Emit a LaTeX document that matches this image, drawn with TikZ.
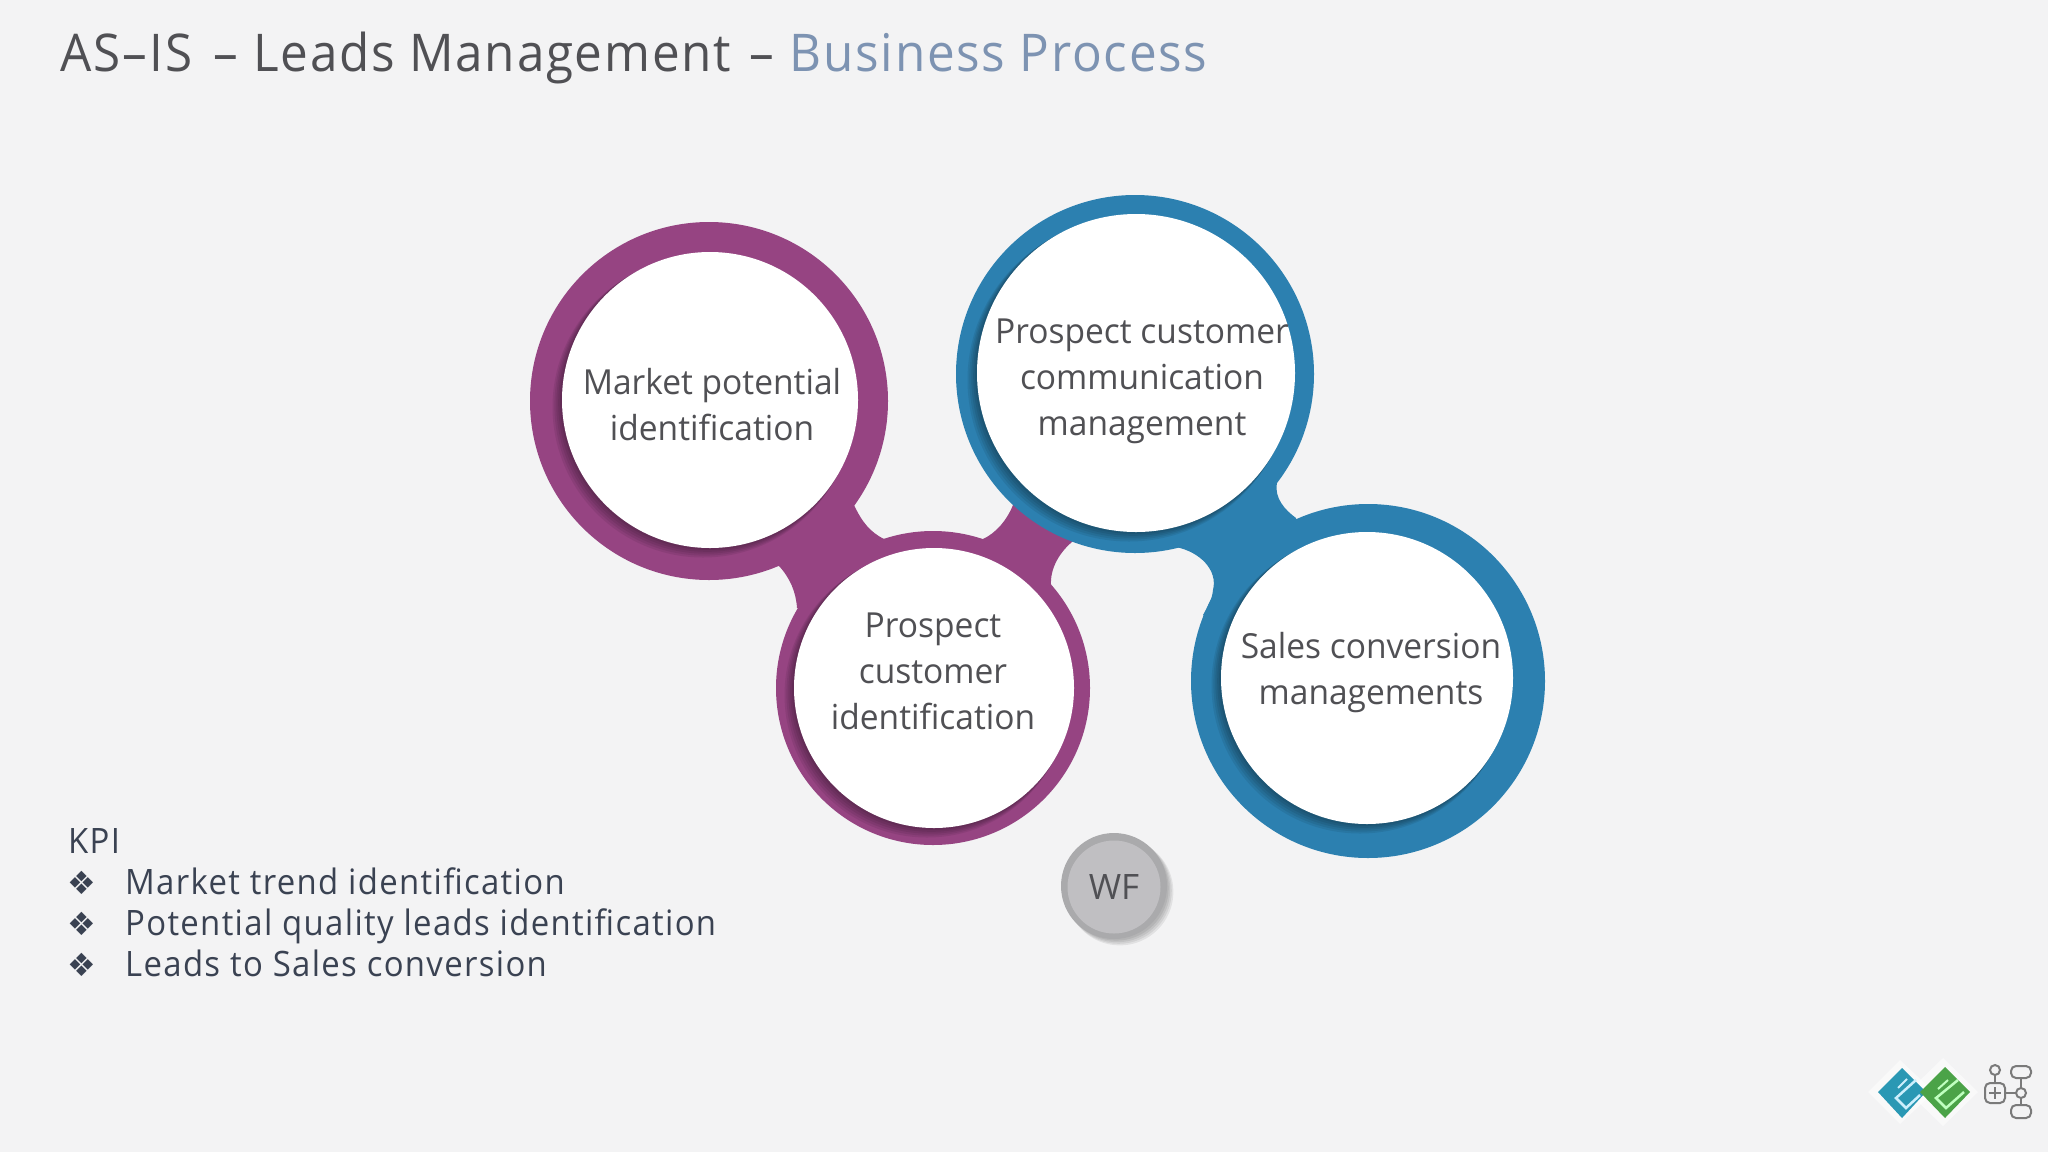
\documentclass[tikz,border=0pt]{standalone}
\usepackage{fontspec}
\setmainfont{Open Sans}
\newfontfamily\symfont{DejaVu Sans}
\usetikzlibrary{calc}
\definecolor{bgc}{HTML}{F3F3F4}
\definecolor{purp}{HTML}{964482}
\definecolor{blu}{HTML}{2C80B0}
\definecolor{txt}{HTML}{505054}
\definecolor{kpi}{HTML}{3A4252}
\definecolor{ttl}{HTML}{7D93B2}
\definecolor{wfring}{HTML}{AAAAAC}
\definecolor{wffill}{HTML}{C0BFC2}
\definecolor{logob}{HTML}{2A98B4}
\definecolor{logog}{HTML}{4BA348}
\tikzset{
  ring/.style={circle,inner sep=0pt,outer sep=0pt},
  face/.style={circle,inner sep=0pt,fill=white},
  lab/.style={inner sep=0pt,text=txt,align=center,font=\fontsize{34.5}{46}\selectfont\addfontfeature{FakeStretch=0.972}},
  kpitext/.style={anchor=base west,inner sep=0pt,text=kpi,font=\fontsize{35}{40}\selectfont\addfontfeature{FakeStretch=0.94,LetterSpace=3.8}},
  kpibul/.style={anchor=base west,inner sep=0pt,text=kpi,font=\symfont\fontsize{32}{34}\selectfont},
  icon/.style={draw=black!52,line width=2pt,fill=none}
}
\newcommand{\faceshadow}[4]{%
  \foreach \k in {10,8,6,4,2}{\fill[#4,opacity=0.075] (#1-\k*0.7,#2+\k*0.7) circle[radius=#3+\k*0.25];}%
}
\begin{document}
\begin{tikzpicture}[x=1pt,y=-1pt]
\useasboundingbox (0,0) rectangle (2048,1152);
\fill[bgc] (0,0) rectangle (2048,1152);
% title
\node[anchor=base west,inner sep=0pt,font=\fontsize{52}{60}\selectfont\addfontfeature{FakeStretch=0.95,LetterSpace=3.3}] (title) at (60,71)
  {\textcolor{txt}{AS\kern2pt–\kern3pt{}IS \kern6pt{}–\kern1pt{} Leads Management \kern4pt{}–\kern1pt{} }\textcolor{ttl}{Business Process}};
% connector necks
\coordinate (p1a) at (854,505); \coordinate (p1b) at (884,539);
\coordinate (p1c) at (797,608); \coordinate (p1d) at (779,566);
\coordinate (p2a) at (983,539); \coordinate (p2b) at (1013,505);
\coordinate (p2c) at (1072,542); \coordinate (p2d) at (1051,585);
\coordinate (b1a) at (1176,547); \coordinate (b1b) at (1203,615);
\coordinate (b1c) at (1296,518); \coordinate (b1d) at (1277,483);
\fill[purp] (p1a) .. controls (862,522) and (870,532) .. (p1b) -- (950,620) -- (p1c)
   .. controls (796,592) and (790,578) .. (p1d) -- (720,500) -- cycle;
\fill[purp] (p2a) .. controls (996,533) and (1007,520) .. (p2b) -- (1100,500) -- (p2c)
   .. controls (1060,552) and (1050,568) .. (p2d) -- (950,650) -- cycle;
\node[ring,fill=purp,minimum size=358pt] (c1o) at (709,401) {};
\node[ring,fill=purp,minimum size=314pt] (c2o) at (933,688) {};
\fill[blu] (b1a) .. controls (1200,552) and (1218,570) .. (1213,590)
   .. controls (1212,600) and (1208,606) .. (b1b) -- (1330,700) -- (b1c)
   .. controls (1285,510) and (1274,498) .. (b1d) -- (1150,400) -- cycle;
\node[ring,fill=blu,minimum size=358pt] (c3o) at (1135,374) {};
\node[ring,fill=blu,minimum size=354pt] (c4o) at (1368,681) {};
% inner shadows
\begin{scope}
\clip (c1o.center) circle[radius=179];
\faceshadow{710}{400}{148}{black}
\end{scope}
\begin{scope}
\clip (c2o.center) circle[radius=157];
\faceshadow{934}{688}{140}{black}
\end{scope}
\begin{scope}
\clip (c3o.center) circle[radius=179];
\faceshadow{1136}{373}{159}{black}
\end{scope}
\begin{scope}
\clip (c4o.center) circle[radius=177];
\faceshadow{1367}{678}{146}{black}
\end{scope}
% faces
\node[face,minimum size=296pt] (c1) at (710,400) {};
\node[face,minimum size=280pt] (c2) at (934,688) {};
\node[face,minimum size=318pt] (c3) at (1136,373) {};
\node[face,minimum size=292pt] (c4) at (1367,678) {};
\node[lab] (t1) at (712,405) {Market potential\\identification};
\node[lab] (t2) at (933,671.5) {Prospect\\customer\\identification};
\node[lab] (t3) at (1142,381) {Prospect customer\\communication\\management};
\node[lab] (t4) at (1371,672.5) {Sales conversion\\managements};
% WF
\foreach \k in {8,6,4,2}{\fill[black,opacity=0.07] (1115+\k*0.6,887+\k*0.6) circle[radius=52+\k*0.2];}
\node[ring,fill=wfring,minimum size=106pt] (wfo) at (1114,886) {};
\node[ring,fill=wffill,text=txt,minimum size=93pt,font=\fontsize{35}{40}\selectfont] (wf) at (1114,887) {WF};
% KPI
\node[kpitext] (kh) at (68,853) {KPI};
\node[kpibul] (b1) at (67,894) {❖};
\node[kpitext] (k1) at (125,894.5) {Market trend identification};
\node[kpibul] (b2) at (67,935) {❖};
\node[kpitext] (k2) at (125,935.5) {Potential quality leads identification};
\node[kpibul] (b3) at (67,976) {❖};
\node[kpitext] (k3) at (125,976.5) {Leads to Sales conversion};
% logo
\fill[white,opacity=0.5] (1900,1060) -- (1934,1092) -- (1900,1124) -- (1868,1092) -- cycle;
\fill[white,opacity=0.5] (1943,1058) -- (1978,1092) -- (1943,1126) -- (1908,1092) -- cycle;
\fill[logob] (1902,1068) -- (1926,1092) -- (1902,1118) -- (1878,1092) -- cycle;
\draw[cyan!20,line width=2.5pt] (1916,1080) -- (1896,1098) -- (1906,1108) -- (1920,1095);
\draw[cyan!20,line width=2pt] (1898,1088) -- (1907,1079);
\fill[logog] (1945,1067) -- (1970,1092) -- (1945,1118) -- (1920,1092) -- cycle;
\draw[white!75!green,line width=2.5pt] (1958,1080) -- (1936,1098) -- (1946,1108) -- (1964,1092);
\draw[white!75!green,line width=2pt] (1938,1089) -- (1948,1080);
% flow icon
\draw[icon] (1995,1070) circle[radius=5];
\draw[icon,rounded corners=5pt] (1985,1083) rectangle (2005,1103);
\draw[icon] (1989,1093) -- (2001,1093) (1995,1087) -- (1995,1099);
\draw[icon] (2021,1093) circle[radius=5];
\draw[icon,rounded corners=5pt] (2011,1066) rectangle (2031,1078);
\draw[icon,rounded corners=5pt] (2011,1105) rectangle (2031,1118);
\draw[icon] (1995,1075) -- (1995,1083) (2005,1093) -- (2016,1093) (2021,1078) -- (2021,1088) (2021,1098) -- (2021,1105);
\end{tikzpicture}
\end{document}
